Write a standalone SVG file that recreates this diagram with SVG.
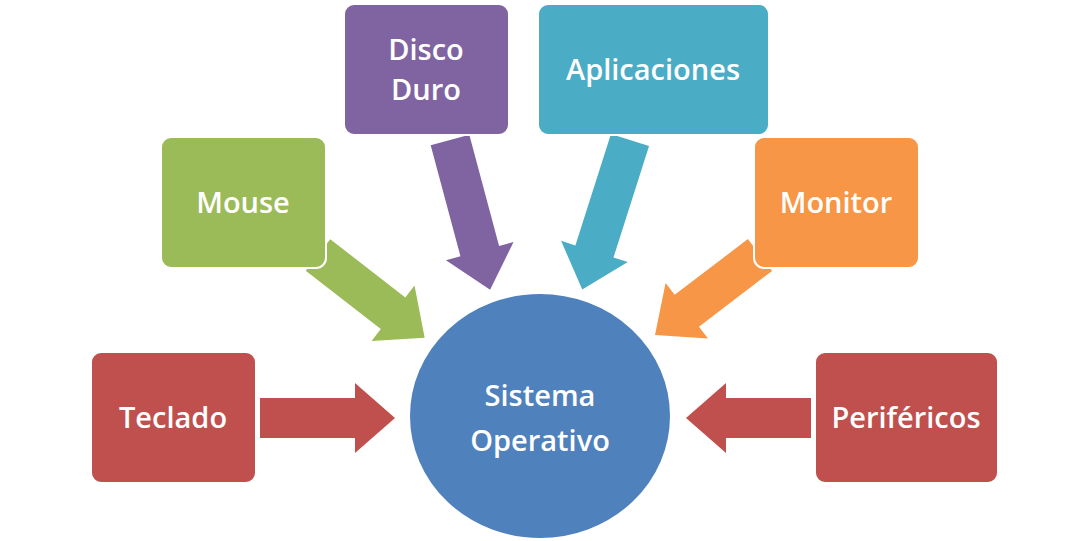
<svg xmlns="http://www.w3.org/2000/svg" width="1089" height="541" viewBox="0 0 1089 541">
<style>
.b{stroke:#fff;stroke-width:2}
.t{font-family:"Open Sans",sans-serif;font-size:29px;font-weight:600;fill:#fff;text-anchor:middle}
</style>
<rect width="1089" height="541" fill="#fff"/>
<g id="connectors">
<path fill="#C0504D" d="M0,-20H95V-35L135,0L95,35V20H0Z" transform="translate(260,418)"/>
<path fill="#C0504D" d="M0,-20H85V-35L125,0L85,35V20H0Z" transform="translate(811,418) rotate(180)"/>
<path fill="#9BBB59" d="M0,-20H95V-35L135,0L95,35V20H0Z" transform="translate(318,255) rotate(37.8)"/>
<path fill="#8064A2" d="M0,-20H115V-35L155,0L115,35V20H0Z" transform="translate(450,140) rotate(75)"/>
<path fill="#4BACC6" d="M0,-20H117V-35L157,0L117,35V20H0Z" transform="translate(630,140) rotate(107.7)"/>
<path fill="#F79646" d="M0,-20H92V-35L132,0L92,35V20H0Z" transform="translate(760,255) rotate(142.7)"/>
</g>
<g id="so"><ellipse class="b" cx="540" cy="416" rx="131" ry="123" fill="#4F81BD"/>
<text class="t" x="540" y="406">Sistema</text><text class="t" x="540" y="451">Operativo</text></g>
<g id="teclado"><rect class="b" x="91" y="352" width="165" height="131" rx="10" fill="#C0504D"/><text class="t" x="173" y="428">Teclado</text></g>
<g id="mouse"><rect class="b" x="161" y="137" width="165" height="131" rx="10" fill="#9BBB59"/><text class="t" x="243" y="213">Mouse</text></g>
<g id="disco"><rect class="b" x="344" y="4" width="165" height="131" rx="10" fill="#8064A2"/><text class="t" x="426" y="60">Disco</text><text class="t" x="426" y="100">Duro</text></g>
<g id="aplicaciones"><rect class="b" x="538" y="4" width="231" height="131" rx="10" fill="#4BACC6"/><text class="t" x="653" y="80">Aplicaciones</text></g>
<g id="monitor"><rect class="b" x="754" y="137" width="165" height="131" rx="10" fill="#F79646"/><text class="t" x="836" y="213">Monitor</text></g>
<g id="perifericos"><rect class="b" x="815" y="352" width="183" height="131" rx="10" fill="#C0504D"/><text class="t" x="906" y="428">Periféricos</text></g>
</svg>
